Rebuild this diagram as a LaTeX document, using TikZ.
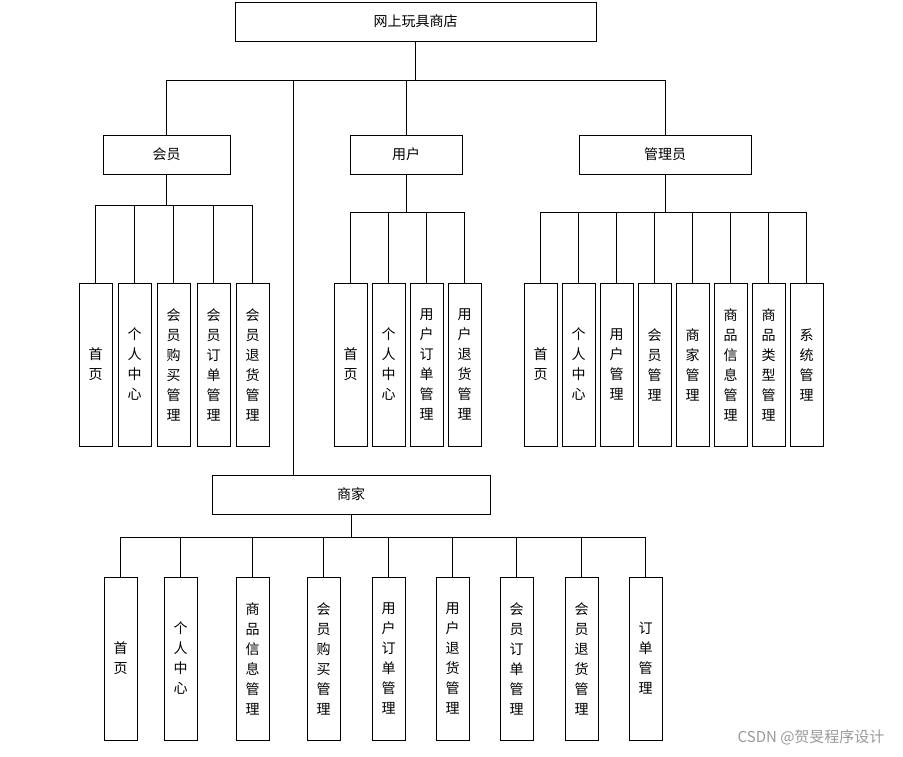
\documentclass[tikz,border=0pt]{standalone}
\usepackage{fontspec}
\setmainfont{Noto Sans CJK SC}
\begin{document}
\begin{tikzpicture}[x=1pt,y=-1pt,font=\fontsize{14}{20}\selectfont,
  hb/.style={draw,thick,fill=white,inner sep=0pt},
  vb/.style={draw,thick,fill=white,inner sep=0pt,minimum width=33pt,minimum height=163pt,align=center,text width=16pt},
  ln/.style={thick}]
\useasboundingbox (0,0) rectangle (903,756);
\node[hb,minimum width=361pt,minimum height=39pt] (top) at (415.5,21.5) {网上玩具商店};
\node[hb,minimum width=127pt,minimum height=39pt] (hy) at (166.5,154.5) {会员};
\node[hb,minimum width=112pt,minimum height=39pt] (yh) at (406,154.5) {用户};
\node[hb,minimum width=172pt,minimum height=39pt] (gl) at (665,154.5) {管理员};
\node[hb,minimum width=278pt,minimum height=39pt] (sj) at (351,494.5) {商家};
\coordinate (sjin) at (293,475);
\foreach \c in {hy,yh,gl,sjin} \draw[ln] (top.south) -- ++(0,39) -| (\c);
% 会员
\foreach \x/\t [count=\i] in {95.5/{首\\页},134.5/{个\\人\\中\\心},173.5/{会\\员\\购\\买\\管\\理},213.5/{会\\员\\订\\单\\管\\理},252.5/{会\\员\\退\\货\\管\\理}}{
  \node[vb] (a\i) at (\x,364.5) {\t};
  \draw[ln] (hy.south) -- ++(0,31) -| (a\i.north);}
% 用户
\foreach \x/\t [count=\i] in {350.5/{首\\页},388.5/{个\\人\\中\\心},426.5/{用\\户\\订\\单\\管\\理},464.5/{用\\户\\退\\货\\管\\理}}{
  \node[vb] (b\i) at (\x,364.5) {\t};
  \draw[ln] (yh.south) -- ++(0,38) -| (b\i.north);}
% 管理员
\foreach \x/\t [count=\i] in {540.5/{首\\页},578.5/{个\\人\\中\\心},616.5/{用\\户\\管\\理},654.5/{会\\员\\管\\理},692.5/{商\\家\\管\\理},730.5/{商\\品\\信\\息\\管\\理},768.5/{商\\品\\类\\型\\管\\理},806.5/{系\\统\\管\\理}}{
  \node[vb] (c\i) at (\x,364.5) {\t};
  \draw[ln] (gl.south) -- ++(0,38) -| (c\i.north);}
% 商家
\foreach \x/\t [count=\i] in {120.5/{首\\页},180.5/{个\\人\\中\\心},252.5/{商\\品\\信\\息\\管\\理},323.5/{会\\员\\购\\买\\管\\理},388.5/{用\\户\\订\\单\\管\\理},452.5/{用\\户\\退\\货\\管\\理},516.5/{会\\员\\订\\单\\管\\理},581.5/{会\\员\\退\\货\\管\\理},645.5/{订\\单\\管\\理}}{
  \node[vb] (d\i) at (\x,658.5) {\t};
  \draw[ln] (sj.south) -- ++(0,23) -| (d\i.north);}
\node[text=gray!80,anchor=east,font=\fontsize{15}{18}\selectfont] (wm) at (888,737) {CSDN @贺旻程序设计};
\end{tikzpicture}
\end{document}
